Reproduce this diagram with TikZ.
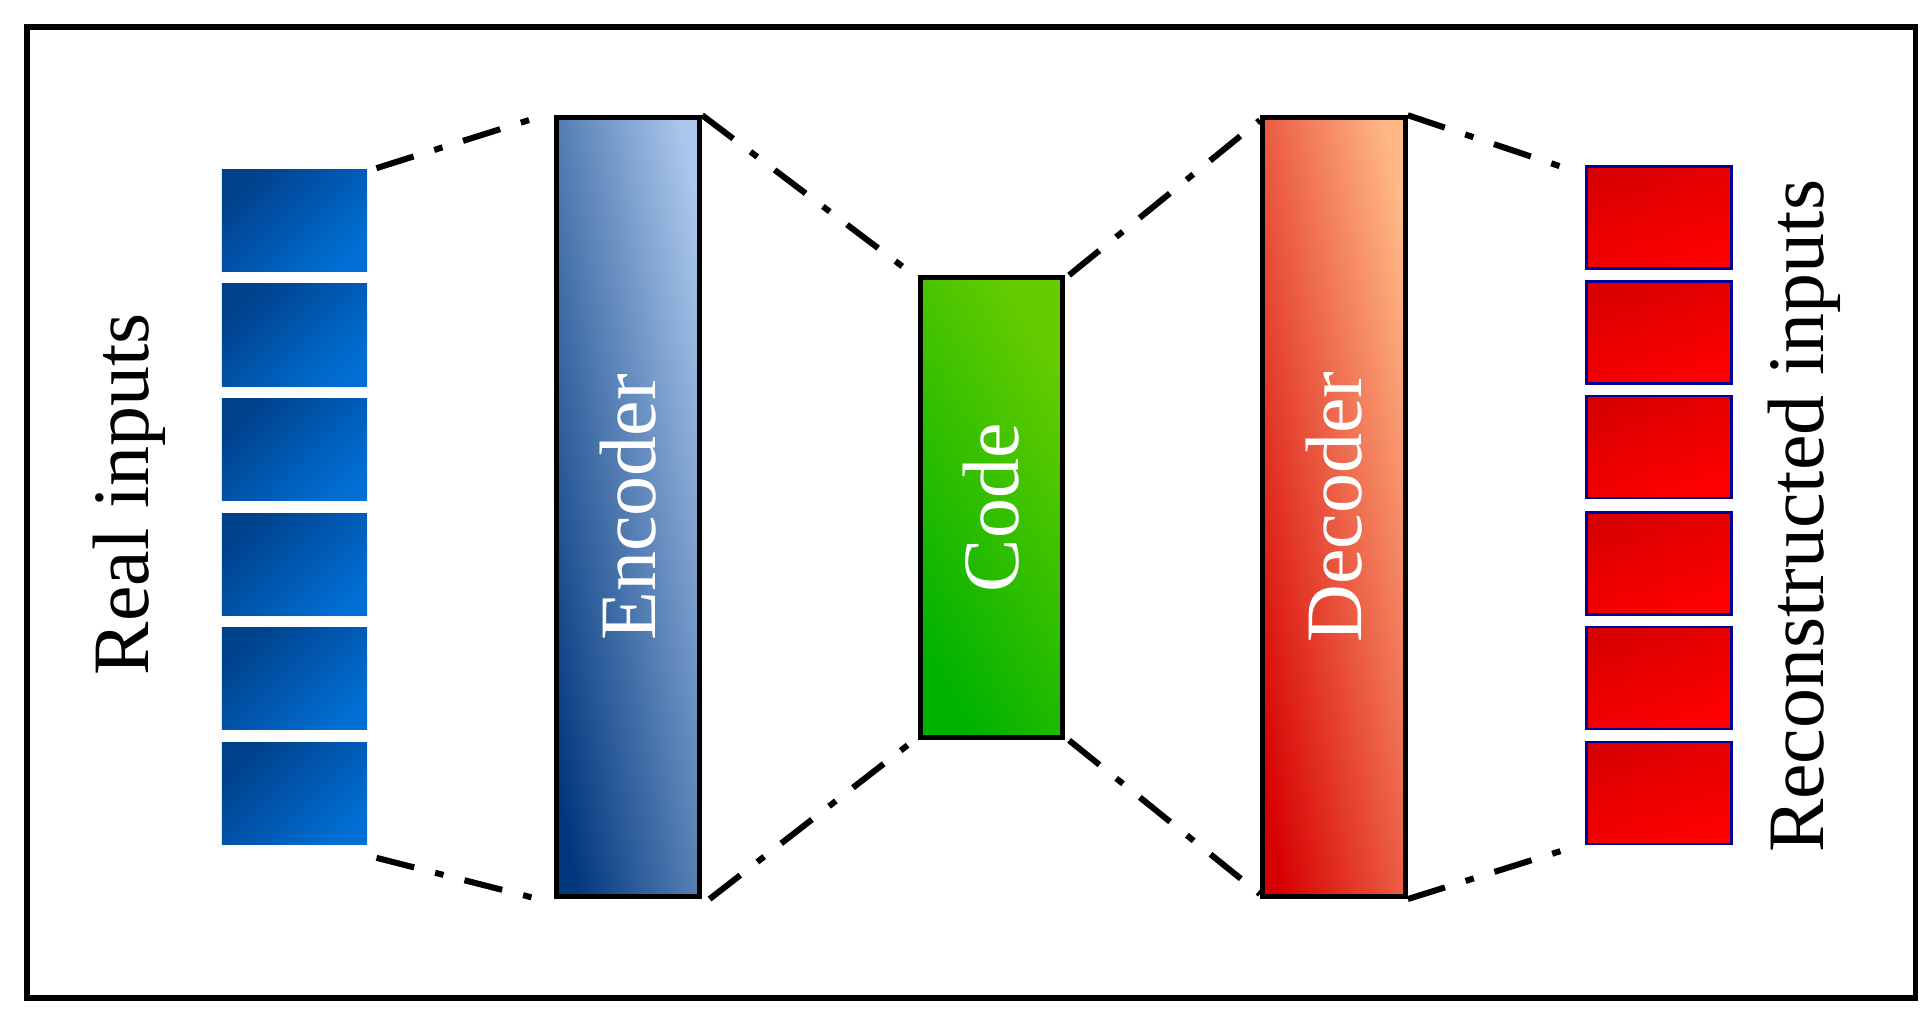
\documentclass[tikz,border=0pt]{standalone}
\usepackage{fontspec}
\setmainfont{Liberation Serif}
\definecolor{encdark}{RGB}{0,55,125}
\definecolor{encmid}{RGB}{10,95,180}
\definecolor{enclight}{RGB}{170,198,235}
\definecolor{decdark}{RGB}{215,0,0}
\definecolor{decmid}{RGB}{245,70,50}
\definecolor{declight}{RGB}{255,185,135}
\definecolor{sqdark}{RGB}{0,65,140}
\definecolor{sqlight}{RGB}{0,110,210}
\begin{document}
\begin{tikzpicture}[x=0.01cm,y=-0.01cm,
  blk/.style={draw=black,line width=1.2pt,inner sep=0pt,minimum width=1.16cm},
  sq/.style={inner sep=0pt,minimum width=1.18cm,minimum height=0.83cm},
  bsq/.style={sq,left color=sqdark,right color=sqlight,shading angle=45},
  rsq/.style={sq,draw=blue!60!black,line width=0.6pt,left color=red!85!black,right color=red,shading angle=20},
  conn/.style={line width=1.4pt,dash pattern=on 9pt off 5pt on 2pt off 5pt},
  lbl/.style={font=\fontsize{18.5}{20}\selectfont,rotate=90}]
\useasboundingbox (0,0) rectangle (1565,832);
\draw[line width=1.3pt] (22,22) rectangle (1558,812);
\foreach \i/\y in {1/179,2/272.5,3/365.5,4/459,5/552,6/645.5}{
  \node[bsq] (l\i) at (239.5,\y) {};
}
\foreach \i/\y in {1/177,2/270.5,3/363.5,4/458.5,5/551.5,6/645}{
  \node[rsq] (r\i) at (1349.5,\y) {};
}
\node[blk,minimum height=6.33cm,left color=encdark,middle color=encmid,right color=enclight,shading angle=100] (enc) at (511,412.5) {};
\node[blk,minimum height=3.74cm,left color=green!70!black,right color=green!50!yellow!80!black,shading angle=120] (code) at (806.5,413) {};
\node[blk,minimum height=6.33cm,left color=decdark,middle color=decmid,right color=declight,shading angle=100] (dec) at (1085,412.5) {};
\node[lbl,text=white] at (enc) {Encoder};
\node[lbl,text=white] at (code) {Code};
\node[lbl,text=white] at (dec) {Decoder};
\node[lbl] (rin) at (105,402) {Real inputs};
\node[lbl] (rec) at (1468,420) {Reconstructed inputs};
\draw[conn] ([xshift=0.07cm]l1.north east) -- ([xshift=-0.08cm]enc.north west);
\draw[conn] ([xshift=0.07cm,yshift=-0.1cm]l6.south east) -- ([xshift=-0.13cm]enc.south west);
\draw[conn] (enc.north east) -- ([xshift=-0.03cm]code.north west);
\draw[conn] ([xshift=0.06cm]enc.south east) -- ([xshift=-0.03cm]code.south west);
\draw[conn] ([xshift=0.03cm]code.north east) -- ([yshift=-0.04cm]dec.north west);
\draw[conn] ([xshift=0.03cm]code.south east) -- ([yshift=0.04cm]dec.south west);
\draw[conn] (dec.north east) -- ([xshift=-0.05cm,yshift=-0.06cm]r1.north west);
\draw[conn] (dec.south east) -- ([xshift=-0.05cm]r6.south west);
\end{tikzpicture}
\end{document}
